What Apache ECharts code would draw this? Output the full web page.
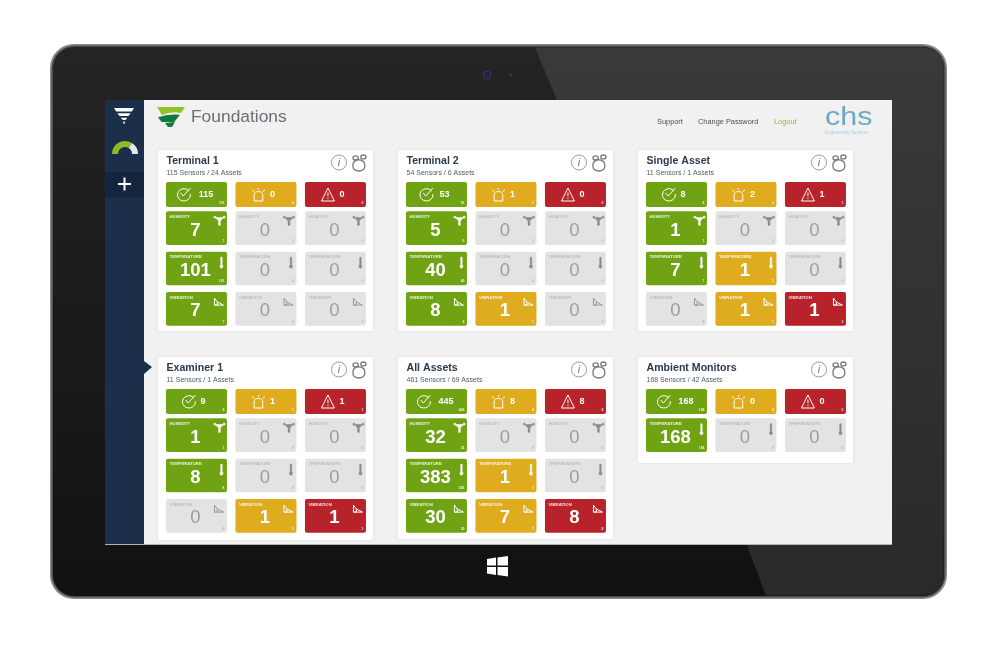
<!DOCTYPE html>
<html>
<head>
<meta charset="utf-8">
<title>Foundations</title>
<style>
  html, body { margin: 0; padding: 0; background: #fff; }
  #main { width: 990px; height: 672px; filter: blur(0.75px); }
</style>
<script src="https://cdn.jsdelivr.net/npm/echarts@6/dist/echarts.min.js"></script>
</head>
<body>
<div id="main"></div>
<script>
// values
var panelNames = ['Terminal 1', 'Terminal 2', 'Single Asset', 'Examiner 1', 'All Assets', 'Ambient Monitors'];
var panelSubtitles = ['115 Sensors / 24 Assets', '54 Sensors / 6 Assets', '11 Sensors / 1 Assets', '11 Sensors / 1 Assets', '461 Sensors / 69 Assets', '168 Sensors / 42 Assets'];
var statuses = ['ok', 'warning', 'alarm'];
// each entry: ok, warning, alarm. null = panel has no such sensors
var summaryCounts = [[115, 0, 0], [53, 1, 0], [8, 2, 1], [9, 1, 1], [445, 8, 8], [168, 0, 0]];
var humidityCounts = [[7, 0, 0], [5, 0, 0], [1, 0, 0], [1, 0, 0], [32, 0, 0], null];
var temperatureCounts = [[101, 0, 0], [40, 0, 0], [7, 1, 0], [8, 0, 0], [383, 1, 0], [168, 0, 0]];
var vibrationCounts = [[7, 0, 0], [8, 1, 0], [0, 1, 1], [0, 1, 1], [30, 7, 8], null];
var sensorLabels = ['HUMIDITY', 'TEMPERATURE', 'VIBRATION'];
var headerLinks = ['Support', 'Change Password', 'Logout'];

// layout
var panelLeft = [158, 398, 638, 158, 398, 638];
var panelTop = [150, 150, 150, 357, 357, 357];
var panelHeight = [181, 181, 181, 183, 182, 106];
var panelWidth = 215;
var rowSlots = [0, 0.84, 1.85, 2.86];

var colors = { ok: '#70a314', warning: '#dfac20', alarm: '#b8222a', empty: '#e3e3e3' };
var font = '"Liberation Sans", Arial, sans-serif';

var icons = {
  check: 'M20 8A10 10 0 1 0 22 13M7 11L11 16L22 3',
  bell: 'M6 23V13A6 6 0 0 1 18 13V23ZM12 1V4M3 4L6 7M21 4L18 7',
  triangle: 'M12 2L23 22H1ZM12 9V15M12 17V19',
  HUMIDITY: 'M2 3L12 13L22 3M12 13V21M0 1H4V5H0ZM20 1H24V5H20ZM10 11H14V21H10Z',
  TEMPERATURE: 'M10 0H14V17A4 4 0 1 1 10 17Z',
  VIBRATION: 'M3 3V21H22L9 13L3 3ZM3 21H9V13'
};

function iconItem(name, cx, cy, w, h, color, filled) {
  return {
    type: 'path',
    shape: { pathData: icons[name], x: cx - w / 2, y: cy - h / 2, width: w, height: h, layout: 'cover' },
    style: { fill: filled ? color : 'none', stroke: color, lineWidth: filled ? 0.5 : 1 }
  };
}

function textItem(str, x, y, size, color, weight, align) {
  return {
    type: 'text',
    x: x,
    y: y,
    style: {
      text: str,
      fill: color,
      font: (weight || 'normal') + ' ' + size + 'px ' + font,
      align: align || 'left',
      verticalAlign: 'middle'
    }
  };
}

// one cell of a panel: x = status column, y = row slot
function renderCell(params, api) {
  var col = api.value(0);
  var slot = api.value(1);
  var count = api.value(2);
  var kind = api.value(3); // -1 = summary row, otherwise index in sensorLabels
  var center = api.coord([col, slot]);
  var band = api.size([1, 1]);
  var w = band[0] * 0.878;
  var h = band[1] * (kind < 0 ? 0.625 : 0.84);
  var x = center[0] - w / 2;
  var y = center[1] - h / 2;
  var lit = kind < 0 || count > 0;
  var fill = lit ? colors[statuses[col]] : colors.empty;
  var ink = lit ? '#ffffff' : '#9c9c9c';
  var faint = lit ? 'rgba(255,255,255,0.85)' : '#adadad';
  var children = [{
    type: 'rect',
    shape: { x: x, y: y, width: w, height: h, r: 2 },
    style: { fill: fill }
  }];
  var str = String(count);
  if (kind < 0) {
    var icon = ['check', 'bell', 'triangle'][col];
    children.push(iconItem(icon, center[0] - 5 - 2.5 * str.length, center[1], 13, 13, '#ffffff', false));
    children.push(textItem(str, center[0] + 5 + 1.5 * str.length, center[1], 9, '#ffffff', 'bold', 'center'));
  } else {
    var label = sensorLabels[kind];
    children.push(textItem(label, x + 3.5, y + 5.5, 4.3, faint, lit ? 'bold' : 'normal'));
    if (label === 'HUMIDITY') {
      children.push(iconItem(label, x + w - 7.5, y + 9.5, 11, 9, lit ? '#ffffff' : '#8a8a8a', true));
    } else if (label === 'TEMPERATURE') {
      children.push(iconItem(label, x + w - 5.5, y + 11, 3, 11, lit ? '#ffffff' : '#8a8a8a', true));
    } else {
      children.push(iconItem(label, x + w - 8, y + 9.5, 9, 7, lit ? '#ffffff' : '#9a9a9a', false));
    }
    children.push(textItem(str, center[0] - 1, center[1] + 2.5, 18.5, ink, lit ? 'bold' : 'normal', 'center'));
  }
  children.push(textItem(str, x + w - 2.5, y + h - 4, 3.4, faint, 'bold', 'right'));
  return { type: 'group', children: children };
}

function cellData(i) {
  var rows = [];
  var slot = 0;
  [summaryCounts[i], humidityCounts[i], temperatureCounts[i], vibrationCounts[i]].forEach(function (counts, r) {
    if (!counts) return;
    counts.forEach(function (c, col) {
      rows.push([col, rowSlots[slot], c, r - 1]);
    });
    slot++;
  });
  return rows;
}

var grids = [], xAxes = [], yAxes = [], series = [];
panelNames.forEach(function (name, i) {
  // columns sit 69.5px apart, rows 40px apart
  grids.push({ left: panelLeft[i] + 3.7, top: panelTop[i] + 44.5, width: 208.5, height: 160, show: false });
  xAxes.push({ type: 'category', gridIndex: i, data: statuses, show: false });
  yAxes.push({ type: 'value', gridIndex: i, min: 0, max: 4, inverse: true, show: false });
  series.push({
    type: 'custom',
    name: name,
    xAxisIndex: i,
    yAxisIndex: i,
    data: cellData(i),
    renderItem: renderCell,
    clip: false,
    silent: true,
    animation: false,
    z: 5
  });
});

// tablet frame, page header and panel backgrounds
var g = [];
var decor = [];
function vGradient(top, bottom) {
  return { type: 'linear', x: 0, y: 0, x2: 0, y2: 1, colorStops: [{ offset: 0, color: top }, { offset: 1, color: bottom }] };
}
function rect(x, y, w, h, fill, r, extra) {
  var el = { type: 'rect', z: 0, shape: { x: x, y: y, width: w, height: h, r: r || 0 }, style: { fill: fill } };
  if (extra) for (var k in extra) el.style[k] = extra[k];
  g.push(el);
}
function label(str, x, y, size, color, weight, align) {
  var t = textItem(str, x, y, size, color, weight, align);
  t.z = 1;
  g.push(t);
  return t;
}
function poly(points, fill) {
  g.push({ type: 'polygon', z: 0, shape: { points: points }, style: { fill: fill } });
}
// graphic component has no path type, these go in a custom series
function pathEl(d, x, y, w, h, style) {
  decor.push({ type: 'path', shape: { pathData: d, x: x, y: y, width: w, height: h, layout: 'cover' }, style: style });
}

rect(50, 44, 897, 555, '#8a8a8a', 24);
rect(51.5, 45.5, 894, 552, '#4c4c4c', 23);
rect(53, 47, 891, 549, vGradient('#242424', '#111111'), 21);
poly([[535, 47.5], [557, 100], [747, 545], [766, 595.5], [923, 595.5], [931, 594], [937.8, 589.8], [942, 583], [943.5, 575],
  [943.5, 68], [942, 60], [937.8, 53.2], [931, 49], [923, 47.5]], vGradient('#393939', '#2a2a2a'));
rect(105, 100, 787, 444.5, '#f1f1f1');
rect(105, 544, 787, 1, '#b5b5b5');
rect(105, 100, 39, 444, '#1b2f4a');
rect(105, 172, 39, 25, '#14253d');
poly([[144, 361], [152, 367], [144, 374]], '#1b2f4a');

// camera and windows button
g.push({ type: 'circle', z: 1, shape: { cx: 487, cy: 75, r: 4 }, style: { fill: '#20234a', stroke: '#3a3a46', lineWidth: 1 } });
g.push({ type: 'circle', z: 1, shape: { cx: 511, cy: 75, r: 1.6 }, style: { fill: '#3a3a3a' } });
pathEl('M0 3L9 1.6V9.5H0ZM10.5 1.4L21 0V9.5H10.5ZM0 11H9V18.9L0 17.5ZM10.5 11H21V20.5L10.5 19.1Z', 487, 556, 21, 20.5, { fill: '#ffffff' });

// sidebar icons
pathEl('M0 0H18L16 3H2ZM3 4.5H15L13 7H5ZM6 8.5H12L10.5 10.5H8ZM8 12H10L9.5 14H9Z', 114, 108, 20, 16, { fill: '#ffffff' });
g.push({ type: 'arc', z: 1, shape: { cx: 125, cy: 154, r: 10, startAngle: Math.PI, endAngle: Math.PI * 1.68 }, style: { stroke: '#8dbb25', lineWidth: 6, fill: 'none' } });
g.push({ type: 'arc', z: 1, shape: { cx: 125, cy: 154, r: 10, startAngle: Math.PI * 1.68, endAngle: Math.PI * 2 }, style: { stroke: '#e4e8ea', lineWidth: 6, fill: 'none' } });
rect(118, 183, 13, 2, '#ffffff');
rect(123.5, 177.5, 2, 13, '#ffffff');

// header
pathEl('M0 0H28L24 6Q14 4 5 8Z', 157, 107, 28, 8, { fill: '#95c12b' });
pathEl('M3 3Q12 0 22 1L17 7H6Z', 158, 114.5, 22, 7.5, { fill: '#10793c' });
pathEl('M0 1L10 0L7 5H3Z', 165, 122, 10, 5, { fill: '#10793c' });
label('Foundations', 191, 117.5, 17.4, '#6a6f73', 'normal');
label(headerLinks[0], 657, 121.5, 7.4, '#4a4f55');
label(headerLinks[1], 698, 121.5, 7.4, '#4a4f55');
label(headerLinks[2], 774, 121.5, 7.4, '#8dbb3a');
var chs = label('chs', 825, 118.5, 25, '#6ba9c7', 'normal');
chs.scaleX = 1.22;
label('Engineering Services', 825, 133, 4.6, '#a8cfe0');

panelNames.forEach(function (name, i) {
  var l = panelLeft[i], t = panelTop[i];
  rect(l, t, panelWidth, panelHeight[i], '#ffffff', 2, { shadowBlur: 3, shadowColor: 'rgba(0,0,0,0.08)' });
  label(name, l + 8.5, t + 11.5, 10.6, '#2a3a50', 'bold');
  label(panelSubtitles[i], l + 8.5, t + 23, 7, '#55595e');
  // info + settings icons
  g.push({ type: 'circle', z: 1, shape: { cx: l + 181, cy: t + 12.5, r: 7.5 }, style: { fill: 'none', stroke: '#9a9a9a', lineWidth: 1 } });
  label('i', l + 181, t + 12.5, 11, '#777777', 'italic', 'center');
  pathEl('M2 9.5A4.5 4.5 0 1 1 11 9.5V12A4.5 4.5 0 1 1 2 12ZM2 3A2 2 0 1 1 6 3A2 2 0 1 1 2 3ZM8 2A2 2 0 1 1 12 2A2 2 0 1 1 8 2Z', l + 195, t + 5, 13, 16, { fill: 'none', stroke: '#777777', lineWidth: 1.3 });
});

series.push({
  type: 'custom',
  coordinateSystem: 'none',
  data: [[0]],
  silent: true,
  animation: false,
  z: 4,
  renderItem: function () {
    return { type: 'group', children: decor };
  }
});

var myChart = echarts.init(document.getElementById('main'));
var option = {
  animation: false,
  backgroundColor: '#ffffff',
  grid: grids,
  xAxis: xAxes,
  yAxis: yAxes,
  series: series,
  graphic: { elements: g }
};
myChart.setOption(option);
</script>
</body>
</html>
